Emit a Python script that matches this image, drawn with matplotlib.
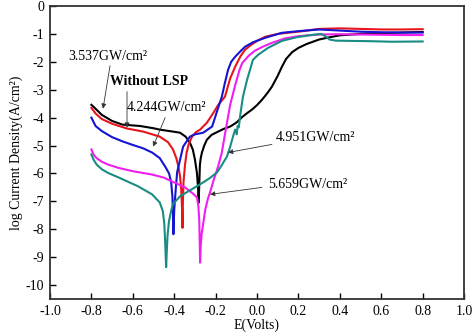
import numpy as np
import matplotlib.pyplot as plt

plt.rcParams['font.family'] = ['Liberation Serif', 'DejaVu Serif']
plt.rcParams['font.size'] = 10

#%% data (E in V, log i)
e_black = [-0.80, -0.78, -0.75, -0.70, -0.65, -0.565, -0.50, -0.47, -0.406, -0.372, -0.345, -0.324,
           -0.31, -0.30, -0.29, -0.285, -0.282, -0.279, -0.276, -0.272, -0.266, -0.255, -0.242, -0.22,
           -0.188, -0.16, -0.13, -0.10, -0.072, -0.05, -0.024, 0.0, 0.024, 0.05, 0.072, 0.10, 0.12,
           0.14, 0.17, 0.20, 0.24, 0.30, 0.35, 0.40, 0.50, 0.60, 0.70, 0.80]
i_black = [-3.54, -3.68, -3.90, -4.12, -4.25, -4.30, -4.38, -4.43, -4.50, -4.54, -4.68, -4.90,
           -5.15, -5.50, -6.00, -6.50, -7.05, -6.40, -5.70, -5.45, -5.25, -5.00, -4.79, -4.62,
           -4.50, -4.40, -4.32, -4.18, -3.98, -3.85, -3.71, -3.55, -3.36, -3.12, -2.89, -2.50, -2.18,
           -1.90, -1.65, -1.50, -1.36, -1.20, -1.12, -1.05, -1.00, -0.97, -0.95, -0.93]

e_red = [-0.80, -0.78, -0.75, -0.70, -0.628, -0.55, -0.47, -0.43, -0.406, -0.39, -0.38, -0.372,
         -0.366, -0.362, -0.36, -0.358, -0.355, -0.348, -0.34, -0.33, -0.314, -0.295, -0.275, -0.242,
         -0.21, -0.188, -0.155, -0.13, -0.106, -0.08, -0.058, -0.03, 0.0, 0.04, 0.10, 0.16, 0.22,
         0.30, 0.40, 0.50, 0.60, 0.70, 0.80]
i_red = [-3.65, -3.85, -4.05, -4.22, -4.39, -4.50, -4.68, -4.88, -5.14, -5.45, -5.75, -6.10,
         -6.60, -7.30, -7.95, -7.00, -6.30, -5.70, -5.25, -4.95, -4.68, -4.52, -4.43, -4.18,
         -3.82, -3.55, -3.25, -2.60, -2.18, -1.80, -1.57, -1.40, -1.25, -1.10, -1.00, -0.95, -0.90,
         -0.82, -0.80, -0.82, -0.84, -0.84, -0.83]

e_blue = [-0.80, -0.78, -0.75, -0.70, -0.65, -0.60, -0.55, -0.507, -0.47, -0.444, -0.425, -0.415,
          -0.409, -0.406, -0.404, -0.40, -0.393, -0.386, -0.37, -0.357, -0.34, -0.324, -0.30, -0.26,
          -0.217, -0.203, -0.19, -0.17, -0.155, -0.14, -0.125, -0.106, -0.08, -0.058, -0.02, 0.039,
          0.12, 0.20, 0.30, 0.40, 0.50, 0.60, 0.70, 0.80]
i_blue = [-4.00, -4.30, -4.48, -4.70, -4.85, -4.98, -5.10, -5.25, -5.45, -5.75, -6.00, -6.30,
          -6.80, -7.40, -8.18, -7.30, -6.60, -5.96, -5.45, -5.04, -4.85, -4.68, -4.60, -4.54,
          -4.32, -4.00, -3.70, -3.25, -2.75, -2.29, -2.00, -1.82, -1.62, -1.46, -1.30, -1.14,
          -0.96, -0.90, -0.84, -0.88, -0.92, -0.94, -0.95, -0.95]

e_mag = [-0.80, -0.79, -0.775, -0.75, -0.72, -0.67, -0.60, -0.507, -0.45, -0.41, -0.348, -0.31,
         -0.29, -0.283, -0.279, -0.277, -0.275, -0.272, -0.268, -0.26, -0.25, -0.237, -0.227, -0.21,
         -0.188, -0.17, -0.155, -0.13, -0.106, -0.085, -0.072, -0.04, -0.01, 0.03, 0.072, 0.135,
         0.20, 0.30, 0.40, 0.50, 0.60, 0.70, 0.80]
i_mag = [-5.14, -5.32, -5.45, -5.58, -5.68, -5.80, -5.92, -6.04, -6.15, -6.29, -6.50, -6.72,
         -6.86, -7.20, -7.70, -8.40, -9.20, -8.60, -8.20, -7.80, -7.30, -6.90, -6.68, -6.25,
         -5.75, -5.25, -4.60, -3.55, -2.85, -2.30, -2.05, -1.78, -1.60, -1.45, -1.32, -1.16,
         -1.08, -1.02, -1.01, -1.02, -1.03, -1.04, -1.04]

e_teal = [-0.80, -0.79, -0.775, -0.75, -0.72, -0.67, -0.575, -0.507, -0.47, -0.455, -0.448, -0.444,
          -0.441, -0.439, -0.436, -0.432, -0.425, -0.415, -0.406, -0.372, -0.30, -0.26, -0.225,
          -0.193, -0.17, -0.145, -0.13, -0.116, -0.106, -0.098, -0.094, -0.088, -0.082, -0.068,
          -0.048, -0.034, -0.02, 0.005, 0.053, 0.12, 0.19, 0.26, 0.31, 0.33, 0.35, 0.38, 0.45, 0.55,
          0.65, 0.80]
i_teal = [-5.32, -5.50, -5.68, -5.85, -5.98, -6.14, -6.46, -6.75, -7.04, -7.35, -7.80, -8.40,
          -9.00, -9.36, -8.80, -8.20, -7.70, -7.35, -7.10, -6.82, -6.50, -6.32, -6.15,
          -5.96, -5.70, -5.39, -5.05, -4.68, -4.43, -4.60, -4.30, -4.35, -3.96, -3.25,
          -2.64, -2.29, -1.93, -1.75, -1.50, -1.25, -1.12, -1.04, -1.00, -1.08, -1.20, -1.24, -1.25,
          -1.26, -1.28, -1.27]

xticks = [-1.0, -0.8, -0.6, -0.4, -0.2, 0.0, 0.2, 0.4, 0.6, 0.8, 1.0]
yticks = [0, -1, -2, -3, -4, -5, -6, -7, -8, -9, -10]

# label text, text position, arrow start, arrow tip
labels = ['3.537GW/cm²', 'Without LSP', '4.244GW/cm²', '4.951GW/cm²', '5.659GW/cm²']
text_xy = [(-0.72, -1.82), (-0.522, -2.71), (-0.435, -3.64), (0.28, -4.71), (0.246, -6.39)]
arrow_from = [(-0.71, -2.14), (-0.628, -3.07), (-0.444, -4.0), (0.072, -4.96), (0.024, -6.5)]
arrow_to = [(-0.744, -3.68), (-0.628, -4.36), (-0.502, -5.04), (-0.14, -5.25), (-0.227, -6.75)]

#%% plot
fig = plt.figure(figsize=(4.74, 3.35), dpi=100)
ax = fig.add_axes([0.1055, 0.1075, 0.8735, 0.8745])

ax.plot(e_black, i_black, color='black', lw=1.5)
ax.plot(e_red, i_red, color='#e8141c', lw=1.5)
ax.plot(e_blue, i_blue, color='#1414d2', lw=1.5)
ax.plot(e_mag, i_mag, color='#f01ef0', lw=1.5)
ax.plot(e_teal, i_teal, color='#1a8c84', lw=1.5)

ax.set_xlim(-1.0, 1.0)
ax.set_ylim(-10.5, 0)
ax.set_xticks(xticks)
ax.set_xticklabels(['%.1f' % v for v in xticks])
ax.set_yticks(yticks)
ax.set_yticklabels([str(v) for v in yticks])
ax.tick_params(direction='in', length=4, width=1, top=False, right=False, pad=4)
for s in ax.spines.values():
    s.set_linewidth(1.3)
    s.set_color('#333333')

ax.set_xlabel('E(Volts)', labelpad=1)
ax.set_ylabel('log Current Density(A/cm²)', labelpad=2)

arr = dict(arrowstyle='-|>', color='#333333', lw=0.6, mutation_scale=7, shrinkA=0, shrinkB=0)
for k in range(len(labels)):
    w = 'bold' if labels[k] == 'Without LSP' else 'normal'
    ax.text(text_xy[k][0], text_xy[k][1], labels[k], ha='center', va='center', fontweight=w)
    ax.annotate('', xy=arrow_to[k], xytext=arrow_from[k], arrowprops=arr)

plt.savefig('out.png', dpi=100)
